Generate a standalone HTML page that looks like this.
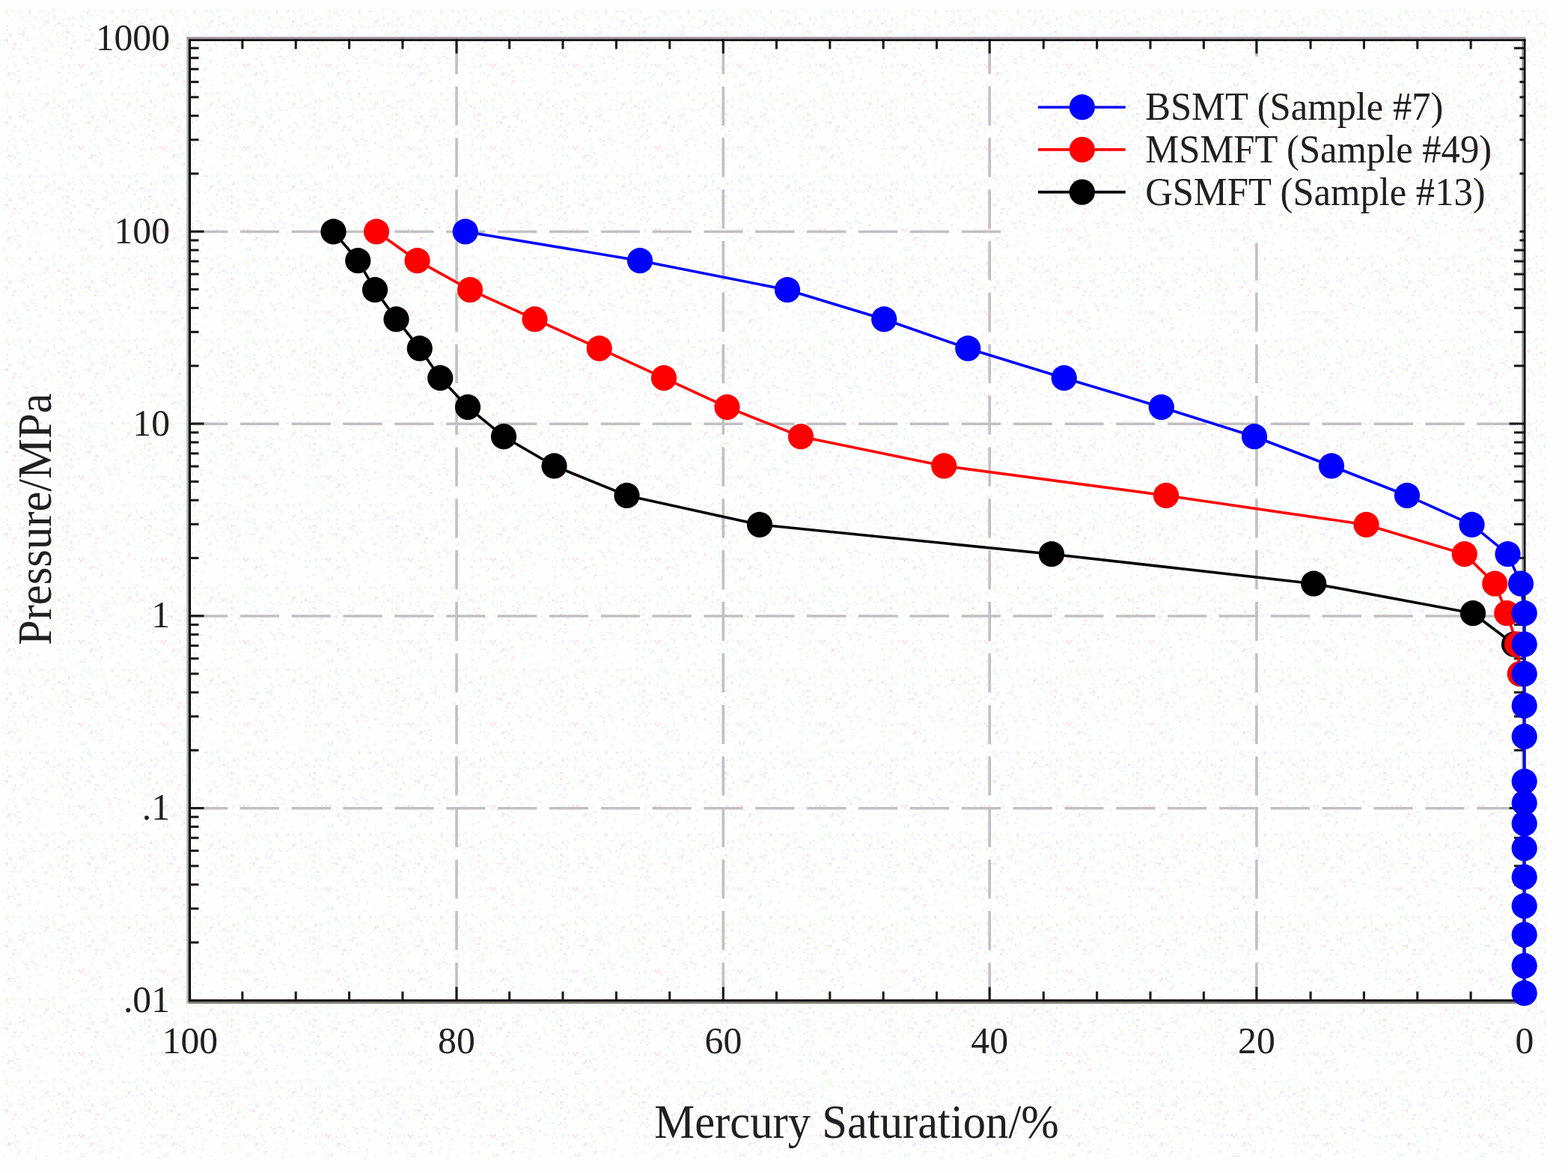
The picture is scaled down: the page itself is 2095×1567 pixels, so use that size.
<!DOCTYPE html>
<html lang="en"><head><meta charset="utf-8"><title>Mercury injection capillary pressure curves</title>
<style>
html,body{margin:0;padding:0;background:#fefefe;}
body{width:2095px;height:1567px;overflow:hidden;}
svg{display:block;}
text{font-family:"Liberation Serif","Times New Roman",serif;fill:#202020;}
.tk{font-size:51.5px;}
.ti{font-size:63px;}
.lg{font-size:52px;}
</style></head><body>
<svg width="2095" height="1567" viewBox="0 0 2095 1567" role="img" aria-label="Mercury injection capillary pressure curves">
<rect x="0" y="0" width="2095" height="1567" fill="#fefefe"/>
<defs><pattern id="speckle" width="110" height="110" patternUnits="userSpaceOnUse">
<rect x="55.00" y="24.75" width="2.75" height="2.75" fill="#effbe9"/>
<rect x="8.25" y="11.00" width="2.75" height="2.75" fill="#effbe9"/>
<rect x="16.50" y="63.25" width="2.75" height="2.75" fill="#fddfe8"/>
<rect x="8.25" y="88.00" width="2.75" height="2.75" fill="#f1f1fb"/>
<rect x="5.50" y="13.75" width="2.75" height="2.75" fill="#effbe9"/>
<rect x="71.50" y="11.00" width="2.75" height="2.75" fill="#f1f1fb"/>
<rect x="13.75" y="96.25" width="2.75" height="2.75" fill="#effbe9"/>
<rect x="8.25" y="99.00" width="2.75" height="2.75" fill="#f1f1fb"/>
<rect x="38.50" y="101.75" width="2.75" height="2.75" fill="#f1f1fb"/>
<rect x="99.00" y="101.75" width="2.75" height="2.75" fill="#effbe9"/>
<rect x="8.25" y="38.50" width="2.75" height="2.75" fill="#f1f1fb"/>
<rect x="96.25" y="22.00" width="2.75" height="2.75" fill="#f1f1fb"/>
<rect x="71.50" y="24.75" width="2.75" height="2.75" fill="#effbe9"/>
<rect x="19.25" y="99.00" width="2.75" height="2.75" fill="#f1f1fb"/>
<rect x="96.25" y="30.25" width="2.75" height="2.75" fill="#f1f1fb"/>
<rect x="101.75" y="99.00" width="2.75" height="2.75" fill="#f1f1fb"/>
<rect x="63.25" y="16.50" width="2.75" height="2.75" fill="#effbe9"/>
<rect x="11.00" y="99.00" width="2.75" height="2.75" fill="#f1f1fb"/>
<rect x="107.25" y="35.75" width="2.75" height="2.75" fill="#effbe9"/>
<rect x="93.50" y="74.25" width="2.75" height="2.75" fill="#f1f1fb"/>
<rect x="79.75" y="101.75" width="2.75" height="2.75" fill="#effbe9"/>
<rect x="63.25" y="52.25" width="2.75" height="2.75" fill="#f1f1fb"/>
<rect x="30.25" y="41.25" width="2.75" height="2.75" fill="#f1f1fb"/>
<rect x="99.00" y="52.25" width="2.75" height="2.75" fill="#effbe9"/>
<rect x="85.25" y="57.75" width="2.75" height="2.75" fill="#effbe9"/>
<rect x="49.50" y="104.50" width="2.75" height="2.75" fill="#f1f1fb"/>
<rect x="19.25" y="88.00" width="2.75" height="2.75" fill="#effbe9"/>
<rect x="27.50" y="57.75" width="2.75" height="2.75" fill="#f1f1fb"/>
<rect x="85.25" y="71.50" width="2.75" height="2.75" fill="#f1f1fb"/>
<rect x="11.00" y="96.25" width="2.75" height="2.75" fill="#fddfe8"/>
<rect x="55.00" y="57.75" width="2.75" height="2.75" fill="#f1f1fb"/>
<rect x="104.50" y="85.25" width="2.75" height="2.75" fill="#fddfe8"/>
<rect x="79.75" y="11.00" width="2.75" height="2.75" fill="#f1f1fb"/>
<rect x="46.75" y="82.50" width="2.75" height="2.75" fill="#f1f1fb"/>
<rect x="8.25" y="52.25" width="2.75" height="2.75" fill="#fddfe8"/>
<rect x="77.00" y="49.50" width="2.75" height="2.75" fill="#effbe9"/>
<rect x="60.50" y="2.75" width="2.75" height="2.75" fill="#effbe9"/>
<rect x="60.50" y="27.50" width="2.75" height="2.75" fill="#fddfe8"/>
<rect x="19.25" y="85.25" width="2.75" height="2.75" fill="#f1f1fb"/>
<rect x="35.75" y="49.50" width="2.75" height="2.75" fill="#f1f1fb"/>
<rect x="41.25" y="68.75" width="2.75" height="2.75" fill="#effbe9"/>
<rect x="85.25" y="13.75" width="2.75" height="2.75" fill="#f1f1fb"/>
<rect x="77.00" y="68.75" width="2.75" height="2.75" fill="#effbe9"/>
<rect x="46.75" y="22.00" width="2.75" height="2.75" fill="#effbe9"/>
<rect x="96.25" y="46.75" width="2.75" height="2.75" fill="#effbe9"/>
<rect x="60.50" y="66.00" width="2.75" height="2.75" fill="#f1f1fb"/>
<rect x="24.75" y="13.75" width="2.75" height="2.75" fill="#f1f1fb"/>
<rect x="24.75" y="38.50" width="2.75" height="2.75" fill="#f1f1fb"/>
<rect x="0.00" y="85.25" width="2.75" height="2.75" fill="#fddfe8"/>
<rect x="30.25" y="44.00" width="2.75" height="2.75" fill="#f1f1fb"/>
<rect x="0.00" y="24.75" width="2.75" height="2.75" fill="#effbe9"/>
<rect x="93.50" y="63.25" width="2.75" height="2.75" fill="#fddfe8"/>
<rect x="99.00" y="55.00" width="2.75" height="2.75" fill="#f1f1fb"/>
<rect x="88.00" y="107.25" width="2.75" height="2.75" fill="#f1f1fb"/>
<rect x="79.75" y="96.25" width="2.75" height="2.75" fill="#effbe9"/>
<rect x="68.75" y="68.75" width="2.75" height="2.75" fill="#effbe9"/>
<rect x="16.50" y="82.50" width="2.75" height="2.75" fill="#effbe9"/>
<rect x="8.25" y="33.00" width="2.75" height="2.75" fill="#f1f1fb"/>
<rect x="35.75" y="77.00" width="2.75" height="2.75" fill="#f1f1fb"/>
<rect x="19.25" y="57.75" width="2.75" height="2.75" fill="#fddfe8"/>
<rect x="8.25" y="16.50" width="2.75" height="2.75" fill="#f1f1fb"/>
<rect x="99.00" y="24.75" width="2.75" height="2.75" fill="#effbe9"/>
<rect x="107.25" y="2.75" width="2.75" height="2.75" fill="#f1f1fb"/>
<rect x="35.75" y="107.25" width="2.75" height="2.75" fill="#effbe9"/>
<rect x="24.75" y="44.00" width="2.75" height="2.75" fill="#f1f1fb"/>
<rect x="104.50" y="63.25" width="2.75" height="2.75" fill="#effbe9"/>
<rect x="19.25" y="19.25" width="2.75" height="2.75" fill="#effbe9"/>
<rect x="79.75" y="82.50" width="2.75" height="2.75" fill="#effbe9"/>
<rect x="52.25" y="13.75" width="2.75" height="2.75" fill="#f1f1fb"/>
<rect x="16.50" y="57.75" width="2.75" height="2.75" fill="#f1f1fb"/>
<rect x="82.50" y="27.50" width="2.75" height="2.75" fill="#effbe9"/>
<rect x="2.75" y="35.75" width="2.75" height="2.75" fill="#effbe9"/>
<rect x="63.25" y="24.75" width="2.75" height="2.75" fill="#effbe9"/>
<rect x="2.75" y="90.75" width="2.75" height="2.75" fill="#f1f1fb"/>
<rect x="13.75" y="44.00" width="2.75" height="2.75" fill="#effbe9"/>
<rect x="63.25" y="27.50" width="2.75" height="2.75" fill="#f1f1fb"/>
<rect x="38.50" y="93.50" width="2.75" height="2.75" fill="#effbe9"/>
<rect x="88.00" y="57.75" width="2.75" height="2.75" fill="#f1f1fb"/>
<rect x="107.25" y="33.00" width="2.75" height="2.75" fill="#f1f1fb"/>
<rect x="68.75" y="38.50" width="2.75" height="2.75" fill="#f1f1fb"/>
<rect x="90.75" y="85.25" width="2.75" height="2.75" fill="#f1f1fb"/>
<rect x="2.75" y="2.75" width="2.75" height="2.75" fill="#f1f1fb"/>
<rect x="82.50" y="44.00" width="2.75" height="2.75" fill="#f1f1fb"/>
<rect x="104.50" y="60.50" width="2.75" height="2.75" fill="#effbe9"/>
<rect x="60.50" y="63.25" width="2.75" height="2.75" fill="#f1f1fb"/>
<rect x="38.50" y="16.50" width="2.75" height="2.75" fill="#f1f1fb"/>
<rect x="82.50" y="33.00" width="2.75" height="2.75" fill="#f1f1fb"/>
<rect x="35.75" y="82.50" width="2.75" height="2.75" fill="#fddfe8"/>
<rect x="107.25" y="0.00" width="2.75" height="2.75" fill="#effbe9"/>
<rect x="60.50" y="13.75" width="2.75" height="2.75" fill="#f1f1fb"/>
<rect x="66.00" y="33.00" width="2.75" height="2.75" fill="#effbe9"/>
<rect x="30.25" y="74.25" width="2.75" height="2.75" fill="#f1f1fb"/>
<rect x="13.75" y="68.75" width="2.75" height="2.75" fill="#effbe9"/>
<rect x="68.75" y="13.75" width="2.75" height="2.75" fill="#f1f1fb"/>
<rect x="27.50" y="22.00" width="2.75" height="2.75" fill="#f1f1fb"/>
<rect x="24.75" y="101.75" width="2.75" height="2.75" fill="#effbe9"/>
<rect x="24.75" y="107.25" width="2.75" height="2.75" fill="#fddfe8"/>
<rect x="82.50" y="60.50" width="2.75" height="2.75" fill="#f1f1fb"/>
<rect x="96.25" y="96.25" width="2.75" height="2.75" fill="#f1f1fb"/>
<rect x="2.75" y="0.00" width="2.75" height="2.75" fill="#f1f1fb"/>
<rect x="90.75" y="22.00" width="2.75" height="2.75" fill="#effbe9"/>
<rect x="33.00" y="35.75" width="2.75" height="2.75" fill="#f1f1fb"/>
<rect x="44.00" y="35.75" width="2.75" height="2.75" fill="#f1f1fb"/>
<rect x="88.00" y="41.25" width="2.75" height="2.75" fill="#fddfe8"/>
<rect x="55.00" y="44.00" width="2.75" height="2.75" fill="#effbe9"/>
<rect x="71.50" y="22.00" width="2.75" height="2.75" fill="#f1f1fb"/>
<rect x="60.50" y="79.75" width="2.75" height="2.75" fill="#fddfe8"/>
<rect x="90.75" y="71.50" width="2.75" height="2.75" fill="#effbe9"/>
<rect x="22.00" y="93.50" width="2.75" height="2.75" fill="#f1f1fb"/>
<rect x="90.75" y="88.00" width="2.75" height="2.75" fill="#f1f1fb"/>
<rect x="77.00" y="30.25" width="2.75" height="2.75" fill="#fddfe8"/>
<rect x="30.25" y="24.75" width="2.75" height="2.75" fill="#effbe9"/>
<rect x="107.25" y="19.25" width="2.75" height="2.75" fill="#effbe9"/>
<rect x="8.25" y="55.00" width="2.75" height="2.75" fill="#effbe9"/>
<rect x="90.75" y="96.25" width="2.75" height="2.75" fill="#effbe9"/>
<rect x="16.50" y="96.25" width="2.75" height="2.75" fill="#f1f1fb"/>
<rect x="41.25" y="33.00" width="2.75" height="2.75" fill="#f1f1fb"/>
<rect x="5.50" y="16.50" width="2.75" height="2.75" fill="#effbe9"/>
<rect x="77.00" y="96.25" width="2.75" height="2.75" fill="#f1f1fb"/>
<rect x="11.00" y="77.00" width="2.75" height="2.75" fill="#f1f1fb"/>
<rect x="107.25" y="88.00" width="2.75" height="2.75" fill="#fddfe8"/>
<rect x="88.00" y="33.00" width="2.75" height="2.75" fill="#f1f1fb"/>
<rect x="77.00" y="88.00" width="2.75" height="2.75" fill="#effbe9"/>
<rect x="82.50" y="88.00" width="2.75" height="2.75" fill="#f1f1fb"/>
<rect x="90.75" y="44.00" width="2.75" height="2.75" fill="#effbe9"/>
<rect x="33.00" y="77.00" width="2.75" height="2.75" fill="#f1f1fb"/>
<rect x="71.50" y="19.25" width="2.75" height="2.75" fill="#effbe9"/>
<rect x="77.00" y="55.00" width="2.75" height="2.75" fill="#f1f1fb"/>
<rect x="41.25" y="74.25" width="2.75" height="2.75" fill="#f1f1fb"/>
<rect x="35.75" y="52.25" width="2.75" height="2.75" fill="#f1f1fb"/>
<rect x="24.75" y="63.25" width="2.75" height="2.75" fill="#f1f1fb"/>
<rect x="44.00" y="22.00" width="2.75" height="2.75" fill="#effbe9"/>
<rect x="68.75" y="85.25" width="2.75" height="2.75" fill="#f1f1fb"/>
<rect x="38.50" y="27.50" width="2.75" height="2.75" fill="#effbe9"/>
<rect x="88.00" y="68.75" width="2.75" height="2.75" fill="#f1f1fb"/>
<rect x="71.50" y="33.00" width="2.75" height="2.75" fill="#f1f1fb"/>
<rect x="55.00" y="13.75" width="2.75" height="2.75" fill="#f1f1fb"/>
<rect x="2.75" y="57.75" width="2.75" height="2.75" fill="#effbe9"/>
<rect x="79.75" y="77.00" width="2.75" height="2.75" fill="#f1f1fb"/>
<rect x="66.00" y="57.75" width="2.75" height="2.75" fill="#effbe9"/>
<rect x="107.25" y="49.50" width="2.75" height="2.75" fill="#effbe9"/>
<rect x="11.00" y="19.25" width="2.75" height="2.75" fill="#f1f1fb"/>
<rect x="16.50" y="13.75" width="2.75" height="2.75" fill="#f1f1fb"/>
<rect x="46.75" y="5.50" width="2.75" height="2.75" fill="#f1f1fb"/>
<rect x="74.25" y="44.00" width="2.75" height="2.75" fill="#effbe9"/>
<rect x="24.75" y="93.50" width="2.75" height="2.75" fill="#effbe9"/>
<rect x="99.00" y="85.25" width="2.75" height="2.75" fill="#f1f1fb"/>
<rect x="13.75" y="46.75" width="2.75" height="2.75" fill="#f1f1fb"/>
<rect x="11.00" y="46.75" width="2.75" height="2.75" fill="#f1f1fb"/>
<rect x="13.75" y="104.50" width="2.75" height="2.75" fill="#f1f1fb"/>
<rect x="11.00" y="44.00" width="2.75" height="2.75" fill="#f1f1fb"/>
<rect x="79.75" y="0.00" width="2.75" height="2.75" fill="#f1f1fb"/>
<rect x="96.25" y="71.50" width="2.75" height="2.75" fill="#f1f1fb"/>
<rect x="107.25" y="22.00" width="2.75" height="2.75" fill="#f1f1fb"/>
<rect x="90.75" y="41.25" width="2.75" height="2.75" fill="#f1f1fb"/>
<rect x="27.50" y="44.00" width="2.75" height="2.75" fill="#f1f1fb"/>
<rect x="30.25" y="33.00" width="2.75" height="2.75" fill="#f1f1fb"/>
<rect x="52.25" y="90.75" width="2.75" height="2.75" fill="#f1f1fb"/>
<rect x="49.50" y="77.00" width="2.75" height="2.75" fill="#effbe9"/>
<rect x="30.25" y="46.75" width="2.75" height="2.75" fill="#f1f1fb"/>
<rect x="2.75" y="44.00" width="2.75" height="2.75" fill="#f1f1fb"/>
<rect x="0.00" y="2.75" width="2.75" height="2.75" fill="#effbe9"/>
<rect x="96.25" y="33.00" width="2.75" height="2.75" fill="#effbe9"/>
<rect x="82.50" y="41.25" width="2.75" height="2.75" fill="#effbe9"/>
<rect x="16.50" y="74.25" width="2.75" height="2.75" fill="#effbe9"/>
<rect x="93.50" y="68.75" width="2.75" height="2.75" fill="#effbe9"/>
<rect x="52.25" y="35.75" width="2.75" height="2.75" fill="#f1f1fb"/>
<rect x="57.75" y="33.00" width="2.75" height="2.75" fill="#f1f1fb"/>
<rect x="68.75" y="60.50" width="2.75" height="2.75" fill="#f1f1fb"/>
<rect x="22.00" y="0.00" width="2.75" height="2.75" fill="#f1f1fb"/>
<rect x="44.00" y="74.25" width="2.75" height="2.75" fill="#f1f1fb"/>
<rect x="8.25" y="13.75" width="2.75" height="2.75" fill="#effbe9"/>
<rect x="88.00" y="49.50" width="2.75" height="2.75" fill="#fddfe8"/>
<rect x="41.25" y="49.50" width="2.75" height="2.75" fill="#f1f1fb"/>
<rect x="79.75" y="30.25" width="2.75" height="2.75" fill="#f1f1fb"/>
<rect x="46.75" y="77.00" width="2.75" height="2.75" fill="#f1f1fb"/>
<rect x="44.00" y="63.25" width="2.75" height="2.75" fill="#f1f1fb"/>
<rect x="96.25" y="55.00" width="2.75" height="2.75" fill="#f1f1fb"/>
<rect x="5.50" y="52.25" width="2.75" height="2.75" fill="#f1f1fb"/>
<rect x="60.50" y="30.25" width="2.75" height="2.75" fill="#f1f1fb"/>
<rect x="57.75" y="66.00" width="2.75" height="2.75" fill="#f1f1fb"/>
<rect x="82.50" y="46.75" width="2.75" height="2.75" fill="#effbe9"/>
<rect x="33.00" y="41.25" width="2.75" height="2.75" fill="#effbe9"/>
<rect x="0.00" y="13.75" width="2.75" height="2.75" fill="#f1f1fb"/>
<rect x="13.75" y="24.75" width="2.75" height="2.75" fill="#effbe9"/>
<rect x="101.75" y="5.50" width="2.75" height="2.75" fill="#effbe9"/>
<rect x="2.75" y="52.25" width="2.75" height="2.75" fill="#f1f1fb"/>
<rect x="38.50" y="13.75" width="2.75" height="2.75" fill="#fddfe8"/>
<rect x="90.75" y="24.75" width="2.75" height="2.75" fill="#fddfe8"/>
<rect x="66.00" y="55.00" width="2.75" height="2.75" fill="#effbe9"/>
</pattern></defs>
<rect x="4" y="12" width="2062" height="1536" fill="url(#speckle)"/>
<g stroke="#c2c0c2" stroke-width="3.6" fill="none" stroke-dasharray="52.3 16.55">
<line x1="251.90" y1="309.46" x2="2036.50" y2="309.46"/>
<line x1="251.90" y1="566.22" x2="2036.50" y2="566.22"/>
<line x1="251.90" y1="822.98" x2="2036.50" y2="822.98"/>
<line x1="251.90" y1="1079.74" x2="2036.50" y2="1079.74"/>
<line x1="610.00" y1="1338.20" x2="610.00" y2="52.50"/>
<line x1="966.30" y1="1338.20" x2="966.30" y2="52.50"/>
<line x1="1322.20" y1="1338.20" x2="1322.20" y2="52.50"/>
<line x1="1678.90" y1="1338.20" x2="1678.90" y2="52.50"/>
</g>
<g stroke="none">
<rect x="249.4" y="49.3" width="2.5" height="1291.5" fill="#a8aeac"/>
<rect x="249.4" y="49.3" width="1789.1" height="2.9" fill="#a2949f"/>
<rect x="2033.4" y="54.9" width="2.6" height="1280.1" fill="#8d8c8f"/>
<rect x="251.9" y="1338.0" width="1786.6" height="2.8" fill="#7a7a73"/>
</g>
<g stroke="#1c1c1c" stroke-width="3.1" fill="none">
<line x1="252.50" y1="1259.01" x2="265.50" y2="1259.01"/>
<line x1="2036.50" y1="1259.01" x2="2023.00" y2="1259.01"/>
<line x1="252.50" y1="1213.79" x2="265.50" y2="1213.79"/>
<line x1="2036.50" y1="1213.79" x2="2023.00" y2="1213.79"/>
<line x1="252.50" y1="1181.72" x2="265.50" y2="1181.72"/>
<line x1="2036.50" y1="1181.72" x2="2023.00" y2="1181.72"/>
<line x1="252.50" y1="1156.83" x2="265.50" y2="1156.83"/>
<line x1="2036.50" y1="1156.83" x2="2023.00" y2="1156.83"/>
<line x1="252.50" y1="1136.50" x2="265.50" y2="1136.50"/>
<line x1="2036.50" y1="1136.50" x2="2023.00" y2="1136.50"/>
<line x1="252.50" y1="1119.31" x2="265.50" y2="1119.31"/>
<line x1="2036.50" y1="1119.31" x2="2023.00" y2="1119.31"/>
<line x1="252.50" y1="1104.42" x2="265.50" y2="1104.42"/>
<line x1="2036.50" y1="1104.42" x2="2023.00" y2="1104.42"/>
<line x1="252.50" y1="1091.29" x2="265.50" y2="1091.29"/>
<line x1="2036.50" y1="1091.29" x2="2023.00" y2="1091.29"/>
<line x1="252.50" y1="1079.54" x2="272.50" y2="1079.54"/>
<line x1="2036.50" y1="1079.54" x2="2016.50" y2="1079.54"/>
<line x1="252.50" y1="1002.25" x2="265.50" y2="1002.25"/>
<line x1="2036.50" y1="1002.25" x2="2023.00" y2="1002.25"/>
<line x1="252.50" y1="957.03" x2="265.50" y2="957.03"/>
<line x1="2036.50" y1="957.03" x2="2023.00" y2="957.03"/>
<line x1="252.50" y1="924.96" x2="265.50" y2="924.96"/>
<line x1="2036.50" y1="924.96" x2="2023.00" y2="924.96"/>
<line x1="252.50" y1="900.07" x2="265.50" y2="900.07"/>
<line x1="2036.50" y1="900.07" x2="2023.00" y2="900.07"/>
<line x1="252.50" y1="879.74" x2="265.50" y2="879.74"/>
<line x1="2036.50" y1="879.74" x2="2023.00" y2="879.74"/>
<line x1="252.50" y1="862.55" x2="265.50" y2="862.55"/>
<line x1="2036.50" y1="862.55" x2="2023.00" y2="862.55"/>
<line x1="252.50" y1="847.66" x2="265.50" y2="847.66"/>
<line x1="2036.50" y1="847.66" x2="2023.00" y2="847.66"/>
<line x1="252.50" y1="834.53" x2="265.50" y2="834.53"/>
<line x1="2036.50" y1="834.53" x2="2023.00" y2="834.53"/>
<line x1="252.50" y1="822.78" x2="272.50" y2="822.78"/>
<line x1="2036.50" y1="822.78" x2="2016.50" y2="822.78"/>
<line x1="252.50" y1="745.49" x2="265.50" y2="745.49"/>
<line x1="2036.50" y1="745.49" x2="2023.00" y2="745.49"/>
<line x1="252.50" y1="700.27" x2="265.50" y2="700.27"/>
<line x1="2036.50" y1="700.27" x2="2023.00" y2="700.27"/>
<line x1="252.50" y1="668.20" x2="265.50" y2="668.20"/>
<line x1="2036.50" y1="668.20" x2="2023.00" y2="668.20"/>
<line x1="252.50" y1="643.31" x2="265.50" y2="643.31"/>
<line x1="2036.50" y1="643.31" x2="2023.00" y2="643.31"/>
<line x1="252.50" y1="622.98" x2="265.50" y2="622.98"/>
<line x1="2036.50" y1="622.98" x2="2023.00" y2="622.98"/>
<line x1="252.50" y1="605.79" x2="265.50" y2="605.79"/>
<line x1="2036.50" y1="605.79" x2="2023.00" y2="605.79"/>
<line x1="252.50" y1="590.90" x2="265.50" y2="590.90"/>
<line x1="2036.50" y1="590.90" x2="2023.00" y2="590.90"/>
<line x1="252.50" y1="577.77" x2="265.50" y2="577.77"/>
<line x1="2036.50" y1="577.77" x2="2023.00" y2="577.77"/>
<line x1="252.50" y1="566.02" x2="272.50" y2="566.02"/>
<line x1="2036.50" y1="566.02" x2="2016.50" y2="566.02"/>
<line x1="252.50" y1="488.73" x2="265.50" y2="488.73"/>
<line x1="2036.50" y1="488.73" x2="2023.00" y2="488.73"/>
<line x1="252.50" y1="443.51" x2="265.50" y2="443.51"/>
<line x1="2036.50" y1="443.51" x2="2023.00" y2="443.51"/>
<line x1="252.50" y1="411.44" x2="265.50" y2="411.44"/>
<line x1="2036.50" y1="411.44" x2="2023.00" y2="411.44"/>
<line x1="252.50" y1="386.55" x2="265.50" y2="386.55"/>
<line x1="2036.50" y1="386.55" x2="2023.00" y2="386.55"/>
<line x1="252.50" y1="366.22" x2="265.50" y2="366.22"/>
<line x1="2036.50" y1="366.22" x2="2023.00" y2="366.22"/>
<line x1="252.50" y1="349.03" x2="265.50" y2="349.03"/>
<line x1="2036.50" y1="349.03" x2="2023.00" y2="349.03"/>
<line x1="252.50" y1="334.14" x2="265.50" y2="334.14"/>
<line x1="2036.50" y1="334.14" x2="2023.00" y2="334.14"/>
<line x1="252.50" y1="321.01" x2="265.50" y2="321.01"/>
<line x1="2036.50" y1="321.01" x2="2023.00" y2="321.01"/>
<line x1="252.50" y1="309.26" x2="272.50" y2="309.26"/>
<line x1="2036.50" y1="309.26" x2="2016.50" y2="309.26"/>
<line x1="252.50" y1="231.97" x2="265.50" y2="231.97"/>
<line x1="2036.50" y1="231.97" x2="2023.00" y2="231.97"/>
<line x1="252.50" y1="186.75" x2="265.50" y2="186.75"/>
<line x1="2036.50" y1="186.75" x2="2023.00" y2="186.75"/>
<line x1="252.50" y1="154.68" x2="265.50" y2="154.68"/>
<line x1="2036.50" y1="154.68" x2="2023.00" y2="154.68"/>
<line x1="252.50" y1="129.79" x2="265.50" y2="129.79"/>
<line x1="2036.50" y1="129.79" x2="2023.00" y2="129.79"/>
<line x1="252.50" y1="109.46" x2="265.50" y2="109.46"/>
<line x1="2036.50" y1="109.46" x2="2023.00" y2="109.46"/>
<line x1="252.50" y1="92.27" x2="265.50" y2="92.27"/>
<line x1="2036.50" y1="92.27" x2="2023.00" y2="92.27"/>
<line x1="252.50" y1="77.38" x2="265.50" y2="77.38"/>
<line x1="2036.50" y1="77.38" x2="2023.00" y2="77.38"/>
<line x1="252.50" y1="64.25" x2="265.50" y2="64.25"/>
<line x1="2036.50" y1="64.25" x2="2023.00" y2="64.25"/>
<line x1="1965.14" y1="52.50" x2="1965.14" y2="65.50"/>
<line x1="1965.14" y1="1337.50" x2="1965.14" y2="1324.50"/>
<line x1="1893.78" y1="52.50" x2="1893.78" y2="65.50"/>
<line x1="1893.78" y1="1337.50" x2="1893.78" y2="1324.50"/>
<line x1="1822.42" y1="52.50" x2="1822.42" y2="65.50"/>
<line x1="1822.42" y1="1337.50" x2="1822.42" y2="1324.50"/>
<line x1="1751.06" y1="52.50" x2="1751.06" y2="65.50"/>
<line x1="1751.06" y1="1337.50" x2="1751.06" y2="1324.50"/>
<line x1="1678.90" y1="52.50" x2="1678.90" y2="71.50"/>
<line x1="1678.90" y1="1337.50" x2="1678.90" y2="1318.50"/>
<line x1="1608.34" y1="52.50" x2="1608.34" y2="65.50"/>
<line x1="1608.34" y1="1337.50" x2="1608.34" y2="1324.50"/>
<line x1="1536.98" y1="52.50" x2="1536.98" y2="65.50"/>
<line x1="1536.98" y1="1337.50" x2="1536.98" y2="1324.50"/>
<line x1="1465.62" y1="52.50" x2="1465.62" y2="65.50"/>
<line x1="1465.62" y1="1337.50" x2="1465.62" y2="1324.50"/>
<line x1="1394.26" y1="52.50" x2="1394.26" y2="65.50"/>
<line x1="1394.26" y1="1337.50" x2="1394.26" y2="1324.50"/>
<line x1="1322.20" y1="52.50" x2="1322.20" y2="71.50"/>
<line x1="1322.20" y1="1337.50" x2="1322.20" y2="1318.50"/>
<line x1="1251.54" y1="52.50" x2="1251.54" y2="65.50"/>
<line x1="1251.54" y1="1337.50" x2="1251.54" y2="1324.50"/>
<line x1="1180.18" y1="52.50" x2="1180.18" y2="65.50"/>
<line x1="1180.18" y1="1337.50" x2="1180.18" y2="1324.50"/>
<line x1="1108.82" y1="52.50" x2="1108.82" y2="65.50"/>
<line x1="1108.82" y1="1337.50" x2="1108.82" y2="1324.50"/>
<line x1="1037.46" y1="52.50" x2="1037.46" y2="65.50"/>
<line x1="1037.46" y1="1337.50" x2="1037.46" y2="1324.50"/>
<line x1="966.30" y1="52.50" x2="966.30" y2="71.50"/>
<line x1="966.30" y1="1337.50" x2="966.30" y2="1318.50"/>
<line x1="894.74" y1="52.50" x2="894.74" y2="65.50"/>
<line x1="894.74" y1="1337.50" x2="894.74" y2="1324.50"/>
<line x1="823.38" y1="52.50" x2="823.38" y2="65.50"/>
<line x1="823.38" y1="1337.50" x2="823.38" y2="1324.50"/>
<line x1="752.02" y1="52.50" x2="752.02" y2="65.50"/>
<line x1="752.02" y1="1337.50" x2="752.02" y2="1324.50"/>
<line x1="680.66" y1="52.50" x2="680.66" y2="65.50"/>
<line x1="680.66" y1="1337.50" x2="680.66" y2="1324.50"/>
<line x1="610.00" y1="52.50" x2="610.00" y2="71.50"/>
<line x1="610.00" y1="1337.50" x2="610.00" y2="1318.50"/>
<line x1="537.94" y1="52.50" x2="537.94" y2="65.50"/>
<line x1="537.94" y1="1337.50" x2="537.94" y2="1324.50"/>
<line x1="466.58" y1="52.50" x2="466.58" y2="65.50"/>
<line x1="466.58" y1="1337.50" x2="466.58" y2="1324.50"/>
<line x1="395.22" y1="52.50" x2="395.22" y2="65.50"/>
<line x1="395.22" y1="1337.50" x2="395.22" y2="1324.50"/>
<line x1="323.86" y1="52.50" x2="323.86" y2="65.50"/>
<line x1="323.86" y1="1337.50" x2="323.86" y2="1324.50"/>
</g>
<rect x="1337" y="75.5" width="693.4" height="248.8" fill="#fefefe"/>
<rect x="1337" y="75.5" width="693.4" height="248.8" fill="url(#speckle)"/>
<g stroke="none">
<rect x="251.9" y="52.2" width="3.1" height="1285.8" fill="#050505"/>
<rect x="251.9" y="52.2" width="1786.6" height="2.7" fill="#0a0a0a"/>
<rect x="2036.0" y="52.2" width="2.5" height="1285.8" fill="#0a0a0a"/>
<rect x="251.9" y="1335.0" width="1786.6" height="3.0" fill="#1a1416"/>
</g>
<g fill="#000000" stroke="none">
<polyline points="445.50,309.45 478.25,348.20 501.00,387.20 529.50,426.45 560.75,465.45 588.25,504.95 625.00,543.95 673.00,583.20 740.50,622.45 837.50,661.95 1015.00,700.95 1405.00,740.20 1755.25,779.70 1968.00,819.20 2023.00,860.70" fill="none" stroke="#000000" stroke-width="3.6" stroke-linejoin="round"/>
<circle cx="445.50" cy="309.45" r="17.1"/>
<circle cx="478.25" cy="348.20" r="17.1"/>
<circle cx="501.00" cy="387.20" r="17.1"/>
<circle cx="529.50" cy="426.45" r="17.1"/>
<circle cx="560.75" cy="465.45" r="17.1"/>
<circle cx="588.25" cy="504.95" r="17.1"/>
<circle cx="625.00" cy="543.95" r="17.1"/>
<circle cx="673.00" cy="583.20" r="17.1"/>
<circle cx="740.50" cy="622.45" r="17.1"/>
<circle cx="837.50" cy="661.95" r="17.1"/>
<circle cx="1015.00" cy="700.95" r="17.1"/>
<circle cx="1405.00" cy="740.20" r="17.1"/>
<circle cx="1755.25" cy="779.70" r="17.1"/>
<circle cx="1968.00" cy="819.20" r="17.1"/>
<circle cx="2023.00" cy="860.70" r="17.1"/>
</g>
<g fill="#ff0000" stroke="none">
<polyline points="503.00,309.45 557.50,348.20 628.00,387.20 714.50,426.45 800.75,465.45 887.00,504.95 971.50,543.95 1070.00,583.20 1261.25,622.45 1558.00,661.95 1825.50,700.95 1956.75,740.20 1997.25,779.70 2013.25,819.20 2027.00,860.70 2030.75,900.20" fill="none" stroke="#ff0000" stroke-width="3.6" stroke-linejoin="round"/>
<circle cx="503.00" cy="309.45" r="17.1"/>
<circle cx="557.50" cy="348.20" r="17.1"/>
<circle cx="628.00" cy="387.20" r="17.1"/>
<circle cx="714.50" cy="426.45" r="17.1"/>
<circle cx="800.75" cy="465.45" r="17.1"/>
<circle cx="887.00" cy="504.95" r="17.1"/>
<circle cx="971.50" cy="543.95" r="17.1"/>
<circle cx="1070.00" cy="583.20" r="17.1"/>
<circle cx="1261.25" cy="622.45" r="17.1"/>
<circle cx="1558.00" cy="661.95" r="17.1"/>
<circle cx="1825.50" cy="700.95" r="17.1"/>
<circle cx="1956.75" cy="740.20" r="17.1"/>
<circle cx="1997.25" cy="779.70" r="17.1"/>
<circle cx="2013.25" cy="819.20" r="17.1"/>
<circle cx="2027.00" cy="860.70" r="17.1"/>
<circle cx="2030.75" cy="900.20" r="17.1"/>
</g>
<g fill="#0000ff" stroke="none">
<polyline points="621.75,309.45 855.00,348.20 1052.00,387.20 1181.25,426.45 1293.25,465.45 1421.75,504.95 1551.75,543.95 1676.00,583.20 1779.00,622.45 1880.00,661.95 1966.50,700.95 2014.50,740.20 2032.00,779.70 2036.70,819.20 2036.70,860.70 2036.70,900.20 2036.70,942.70 2036.70,983.95 2036.70,1043.95 2036.70,1072.70 2036.70,1100.20 2036.70,1133.20 2036.70,1171.70 2036.70,1210.20 2036.70,1248.70 2036.70,1290.20 2036.70,1326.70" fill="none" stroke="#0000ff" stroke-width="3.6" stroke-linejoin="round"/>
<circle cx="621.75" cy="309.45" r="17.1"/>
<circle cx="855.00" cy="348.20" r="17.1"/>
<circle cx="1052.00" cy="387.20" r="17.1"/>
<circle cx="1181.25" cy="426.45" r="17.1"/>
<circle cx="1293.25" cy="465.45" r="17.1"/>
<circle cx="1421.75" cy="504.95" r="17.1"/>
<circle cx="1551.75" cy="543.95" r="17.1"/>
<circle cx="1676.00" cy="583.20" r="17.1"/>
<circle cx="1779.00" cy="622.45" r="17.1"/>
<circle cx="1880.00" cy="661.95" r="17.1"/>
<circle cx="1966.50" cy="700.95" r="17.1"/>
<circle cx="2014.50" cy="740.20" r="17.1"/>
<circle cx="2032.00" cy="779.70" r="17.1"/>
<circle cx="2036.70" cy="819.20" r="17.1"/>
<circle cx="2036.70" cy="860.70" r="17.1"/>
<circle cx="2036.70" cy="900.20" r="17.1"/>
<circle cx="2036.70" cy="942.70" r="17.1"/>
<circle cx="2036.70" cy="983.95" r="17.1"/>
<circle cx="2036.70" cy="1043.95" r="17.1"/>
<circle cx="2036.70" cy="1072.70" r="17.1"/>
<circle cx="2036.70" cy="1100.20" r="17.1"/>
<circle cx="2036.70" cy="1133.20" r="17.1"/>
<circle cx="2036.70" cy="1171.70" r="17.1"/>
<circle cx="2036.70" cy="1210.20" r="17.1"/>
<circle cx="2036.70" cy="1248.70" r="17.1"/>
<circle cx="2036.70" cy="1290.20" r="17.1"/>
<circle cx="2036.70" cy="1326.70" r="17.1"/>
</g>
<line x1="1387" y1="143.2" x2="1503.7" y2="143.2" stroke="#0000ff" stroke-width="3.6"/>
<circle cx="1445.8" cy="143.2" r="17.1" fill="#0000ff"/>
<text class="lg" transform="translate(1530.2 160.4) scale(0.973 1)">BSMT (Sample #7)</text>
<line x1="1387" y1="199.9" x2="1503.7" y2="199.9" stroke="#ff0000" stroke-width="3.6"/>
<circle cx="1445.8" cy="199.9" r="17.1" fill="#ff0000"/>
<text class="lg" transform="translate(1530.2 217.1) scale(0.973 1)">MSMFT (Sample #49)</text>
<line x1="1387" y1="256.6" x2="1503.7" y2="256.6" stroke="#000000" stroke-width="3.6"/>
<circle cx="1445.8" cy="256.6" r="17.1" fill="#000000"/>
<text class="lg" transform="translate(1530.2 273.8) scale(0.973 1)">GSMFT (Sample #13)</text>
<text class="tk" transform="translate(227 66.8) scale(0.965 1)" text-anchor="end">1000</text>
<text class="tk" transform="translate(227 325.3) scale(0.965 1)" text-anchor="end">100</text>
<text class="tk" transform="translate(227 581.8) scale(0.965 1)" text-anchor="end">10</text>
<text class="tk" transform="translate(227 838.1) scale(0.965 1)" text-anchor="end">1</text>
<text class="tk" transform="translate(227 1095.1) scale(0.965 1)" text-anchor="end">.1</text>
<text class="tk" transform="translate(227 1351.8) scale(0.965 1)" text-anchor="end">.01</text>
<text class="tk" transform="translate(253.9 1407.0) scale(0.965 1)" text-anchor="middle">100</text>
<text class="tk" transform="translate(609.9 1407.0) scale(0.965 1)" text-anchor="middle">80</text>
<text class="tk" transform="translate(966.4 1407.0) scale(0.965 1)" text-anchor="middle">60</text>
<text class="tk" transform="translate(1322.2 1407.0) scale(0.965 1)" text-anchor="middle">40</text>
<text class="tk" transform="translate(1678.9 1407.0) scale(0.965 1)" text-anchor="middle">20</text>
<text class="tk" transform="translate(2036.8 1407.0) scale(0.965 1)" text-anchor="middle">0</text>
<text class="ti" transform="translate(1144.5 1519.5) scale(0.9625 1)" text-anchor="middle">Mercury Saturation/%</text>
<text class="ti" transform="translate(67.8 693.7) rotate(-90) scale(0.9625 1)" text-anchor="middle">Pressure/MPa</text>
</svg></body></html>
